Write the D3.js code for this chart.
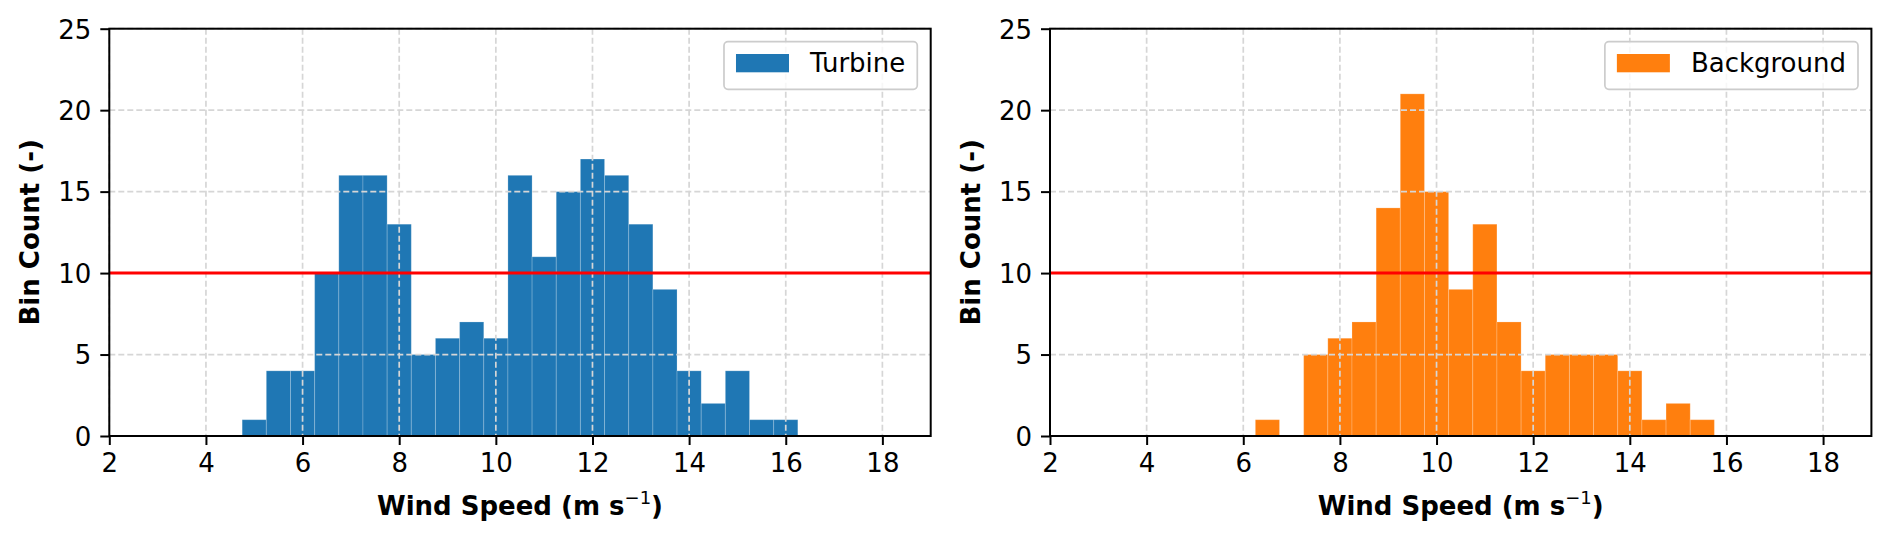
<!DOCTYPE html>
<html>
<head>
<meta charset="utf-8">
<script src="https://cdn.jsdelivr.net/npm/d3@7"></script>
<style>
    body { margin: 0; background: #fff; }
    svg { display: block; font-family: "DejaVu Sans", sans-serif; }
</style>
</head>
<body>
<svg id="chart" width="1892" height="540"></svg>
<script>
// histogram bins (centre of each 0.5 m/s bin)
var binCenters = [5.0, 5.5, 6.0, 6.5, 7.0, 7.5, 8.0, 8.5, 9.0, 9.5, 10.0, 10.5,
    11.0, 11.5, 12.0, 12.5, 13.0, 13.5, 14.0, 14.5, 15.0, 15.5, 16.0];
var binWidth = 0.5;
var turbineCounts = [1, 4, 4, 10, 16, 16, 13, 5, 6, 7, 6, 16,
    11, 15, 17, 16, 13, 9, 4, 2, 4, 1, 1];
var backgroundCounts = [0, 0, 0, 1, 0, 5, 6, 7, 14, 21, 15, 9,
    13, 7, 4, 5, 5, 5, 4, 1, 2, 1, 0];
var thresholdCount = 10;

var xTicks = [2, 4, 6, 8, 10, 12, 14, 16, 18];
var yTicks = [0, 5, 10, 15, 20, 25];
var xDomain = [2, 19];
var yDomain = [0, 25];

var panels = [
    {name: "Turbine", counts: turbineCounts, color: "#1f77b4", left: 109.3},
    {name: "Background", counts: backgroundCounts, color: "#ff7f0e", left: 1050}
];

var svg = d3.select("#chart");
// note: "top" is taken by window.top, so plotTop/plotBottom
var plotW = 821.4, plotTop = 28.7, plotBottom = 436;
var fs = 26;

function drawPanel(p) {
    var x = d3.scaleLinear().domain(xDomain).range([p.left, p.left + plotW]);
    var y = d3.scaleLinear().domain(yDomain).range([plotBottom, plotTop]);
    var g = svg.append("g");

    var bins = binCenters.map(function(c, i) { return {c: c, n: p.counts[i]}; })
        .filter(function(d) { return d.n > 0; });

    g.selectAll("rect.bar")
        .data(bins)
        .enter()
        .append("rect")
        .attr("class", "bar")
        .attr("x", function(d) { return x(d.c - binWidth / 2); })
        .attr("width", function(d) { return x(d.c + binWidth / 2) - x(d.c - binWidth / 2); })
        .attr("y", function(d) { return y(d.n); })
        .attr("height", function(d) { return y(0) - y(d.n); })
        .style("fill", p.color)
        .style("stroke", "rgba(255,255,255,0.2)")
        .style("stroke-width", 1);

    // grid sits above the bars, like the original
    var grid = g.append("g")
        .style("stroke", "#d6d6d6")
        .style("stroke-width", 1.7)
        .style("stroke-dasharray", "6,3");
    grid.selectAll("line.gx")
        .data(xTicks)
        .enter()
        .append("line")
        .attr("x1", function(d) { return x(d); })
        .attr("x2", function(d) { return x(d); })
        .attr("y1", plotTop)
        .attr("y2", plotBottom);
    grid.selectAll("line.gy")
        .data(yTicks)
        .enter()
        .append("line")
        .attr("x1", x(xDomain[0]))
        .attr("x2", x(xDomain[1]))
        .attr("y1", function(d) { return y(d); })
        .attr("y2", function(d) { return y(d); });

    g.append("line")
        .attr("x1", x(xDomain[0]))
        .attr("x2", x(xDomain[1]))
        .attr("y1", y(thresholdCount))
        .attr("y2", y(thresholdCount))
        .style("stroke", "#ff0000")
        .style("stroke-width", 3);

    // axes
    var xAxis = d3.axisBottom(x).tickValues(xTicks).tickSize(9).tickPadding(9)
        .tickFormat(d3.format("d"));
    var yAxis = d3.axisLeft(y).tickValues(yTicks).tickSize(9).tickPadding(9)
        .tickFormat(d3.format("d"));

    var xa = g.append("g")
        .attr("transform", "translate(0," + plotBottom + ")")
        .call(xAxis);
    var ya = g.append("g")
        .attr("transform", "translate(" + p.left + ",0)")
        .call(yAxis);
    [xa, ya].forEach(function(a) {
        a.select(".domain").remove();
        a.selectAll(".tick line").style("stroke", "#000").style("stroke-width", 2);
        a.selectAll(".tick text")
            .style("font-size", fs + "px")
            .style("font-family", "DejaVu Sans")
            .style("fill", "#000");
    });
    ya.selectAll(".tick text").attr("dy", "0.36em");

    g.append("rect")
        .attr("x", p.left)
        .attr("y", plotTop)
        .attr("width", plotW)
        .attr("height", plotBottom - plotTop)
        .style("fill", "none")
        .style("stroke", "#000")
        .style("stroke-width", 2);

    // axis labels
    var xl = g.append("text")
        .attr("x", p.left + plotW / 2)
        .attr("y", 515)
        .attr("text-anchor", "middle")
        .style("font-size", fs + "px")
        .style("font-weight", "bold");
    xl.append("tspan").text("Wind Speed (m s");
    xl.append("tspan")
        .text("\u22121")
        .attr("dy", -11)
        .style("font-size", "18px")
        .style("font-weight", "normal");
    xl.append("tspan").text(")").attr("dy", 11);

    g.append("text")
        .attr("transform", "translate(" + (p.left - 70) + "," + ((plotTop + plotBottom) / 2) + ") rotate(-90)")
        .attr("text-anchor", "middle")
        .style("font-size", fs + "px")
        .style("font-weight", "bold")
        .text("Bin Count (-)");

    // legend, upper right
    var lg = g.append("g");
    var box = lg.append("rect");
    var label = lg.append("text")
        .attr("y", 72.3)
        .style("font-size", fs + "px")
        .text(p.name);
    var tw = label.node().getComputedTextLength();
    var right = p.left + plotW - 13.4;
    var boxW = 12 + 53 + 21 + tw + 12;
    var boxX = right - boxW;
    box.attr("x", boxX)
        .attr("y", 41.7)
        .attr("width", boxW)
        .attr("height", 47.6)
        .attr("rx", 4)
        .style("fill", "rgba(255,255,255,0.8)")
        .style("stroke", "#cccccc")
        .style("stroke-width", 1.7);
    lg.append("rect")
        .attr("x", boxX + 12)
        .attr("y", 54)
        .attr("width", 53)
        .attr("height", 18.3)
        .style("fill", p.color);
    label.attr("x", boxX + 12 + 53 + 21);
    label.raise();
}

panels.forEach(drawPanel);
</script>
</body>
</html>
